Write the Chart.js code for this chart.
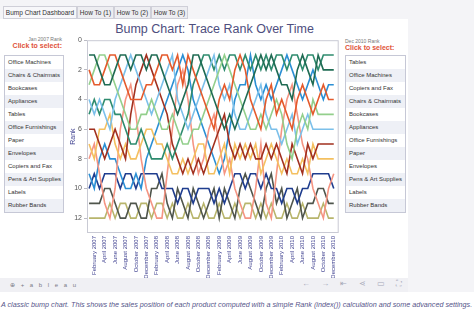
<!DOCTYPE html>
<html lang="en">
<head>
<meta charset="UTF-8">
<title>Bump Chart: Trace Rank Over Time</title>
<script src="https://cdn.jsdelivr.net/npm/chart.js"></script>
<style>
  body { margin:0; width:474px; height:334px; background:#fff; position:relative; overflow:hidden;
         font-family:"Liberation Sans", Arial, sans-serif; }
  .strip { position:absolute; left:0; top:0; width:474px; height:19px; background:#f4f4f7; }
  .side { position:absolute; left:408px; top:0; width:66px; height:292px; background:#f4f4f7; }
  .tab { position:absolute; top:6px; height:11px; border:1px solid #cfcfd8; background:#ededf1;
         font-size:6.5px; line-height:11px; text-align:center; color:#333; }
  .title { position:absolute; left:87px; width:255px; top:22px; text-align:center; font-size:12.5px; color:#4e4e7e; }
  .cap1 { position:absolute; font-size:5px; color:#777; }
  .cap2 { position:absolute; font-size:7px; color:#e0533a; font-weight:bold; }
  .list { position:absolute; top:55px; border:1px solid #c6c8d6; background:#fff; }
  .list div { height:13px; line-height:13px; font-size:6px; color:#333; padding-left:3px;
              white-space:nowrap; overflow:hidden; }
  .list div:nth-child(even) { background:#eef0f6; }
  #chart { position:absolute; left:60px; top:34px; }
  .bar { position:absolute; left:0; top:278px; width:408px; height:14px; background:#f0f0f4; }
  .logo { position:absolute; left:10px; top:3px; font-size:6px; letter-spacing:2px; color:#7a7a86; }
  .icons { position:absolute; left:302px; top:1px; font-size:8px; color:#a6a8b8; word-spacing:9px; }
  .caption { position:absolute; left:1px; top:300px; font-size:7.2px; font-style:italic; color:#55558a; white-space:nowrap; }
</style>
</head>
<body>
<div class="strip"></div>
<div class="side"></div>
<div class="tab" style="left:3px;width:72px;background:#f7f7fa">Bump Chart Dashboard</div>
<div class="tab" style="left:77px;width:35px">How To (1)</div>
<div class="tab" style="left:114px;width:35px">How To (2)</div>
<div class="tab" style="left:151px;width:35px">How To (3)</div>

<div class="title">Bump Chart: Trace Rank Over Time</div>

<div class="cap1" style="right:412px;top:36px">Jan 2007 Rank</div>
<div class="cap2" style="right:412px;top:42px">Click to select:</div>
<div class="list" id="startList" style="left:4px;width:58px"></div>

<div class="cap1" style="left:345px;top:38px">Dec 2010 Rank</div>
<div class="cap2" style="left:345px;top:44px">Click to select:</div>
<div class="list" id="endList" style="left:345px;width:59px"></div>

<canvas id="chart" width="284" height="244"></canvas>

<div class="bar">
  <div class="logo">⊕ + a b l e a u</div>
  <div class="icons">← → ⇤ ⋖ ▭ ⛶</div>
</div>
<div class="caption">A classic bump chart. This shows the sales position of each product computed with a simple Rank (index()) calculation and some advanced settings.</div>

<script>
// monthly sales rank, Jan 2007 .. Dec 2010
const officeMachines    = [1,1,2,3,3,2,1,1,2,1, 1,2,1,1,2,3,4,5,4,3, 1,1,2,3,4,5,6,5,6,5, 4,3,2,1,2,1,2,3,3,4, 2,1,2,3,1,2,2,2];
const chairsChairmats   = [2,3,3,2,1,1,2,3,4,4, 4,3,3,2,1,1,2,1,3,1, 2,3,4,5,6,4,3,4,2,1, 2,4,5,6,4,3,5,4,5,6, 4,3,4,5,4,3,4,4];
const bookcases         = [3,2,1,1,2,3,4,5,6,6, 5,5,4,5,6,6,5,6,7,7, 6,6,5,4,3,2,1,2,3,4, 5,6,6,5,6,5,4,5,7,8, 6,5,6,4,5,5,5,5];
const appliances        = [4,5,4,5,6,4,3,2,1,2, 3,4,5,4,3,2,1,4,5,6, 5,4,3,2,1,3,4,3,5,6, 6,5,4,3,5,6,6,7,6,5, 7,6,5,6,6,6,6,6];
const tables            = [5,4,5,4,4,5,5,6,7,7, 6,7,8,8,8,7,8,7,6,5, 3,2,1,1,2,1,2,1,1,2, 1,2,1,2,1,2,1,1,2,1, 1,2,1,1,2,1,1,1];
const officeFurnishings = [6,6,7,8,7,6,7,8,5,3, 2,1,2,3,4,5,7,8,9,8, 9,8,9,8,7,6,5,7,8,7, 8,7,8,8,7,8,7,8,9,7, 8,9,7,8,7,7,7,7];
const paper             = [7,8,6,6,5,7,8,7,8,8, 7,6,6,7,7,8,9,9,8,9, 8,7,7,9,9,8,7,9,7,8, 7,8,7,9,8,7,8,9,8,9, 9,8,9,7,8,8,8,8];
const envelopes         = [8,7,9,11,12,10,6,4,3,5, 8,10,11,12,12,9,6,3,2,4, 7,9,8,6,5,7,9,8,10,11, 12,12,10,7,11,12,9,6,4,3, 5,7,8,10,11,12,10,9];
const copiersFax        = [9,10,8,7,8,8,9,10,10,9, 10,8,7,6,5,4,3,2,1,2, 4,5,6,7,8,9,8,6,4,3, 3,1,3,4,3,4,3,2,1,2, 3,4,3,2,3,4,3,3];
const pensArt           = [10,9,10,9,9,9,10,9,9,10, 9,9,9,9,10,10,10,11,10,10, 11,10,10,10,11,10,11,10,9,9, 10,9,9,10,9,10,10,11,10,10, 11,10,10,9,9,9,9,10];
const labels            = [11,11,11,10,10,11,12,12,11,11, 12,12,10,10,9,11,12,10,11,12, 10,11,12,11,10,12,10,11,12,10, 9,10,11,12,10,9,11,10,12,11, 10,12,11,11,10,10,11,11];
const rubberBands       = [12,12,12,12,11,12,11,11,12,12, 11,11,12,11,11,12,11,12,12,11, 12,12,11,12,12,11,12,12,11,12, 11,11,12,11,12,11,12,12,11,12, 12,11,12,12,12,11,12,12];

const products = ['Office Machines','Chairs & Chairmats','Bookcases','Appliances','Tables','Office Furnishings',
                  'Paper','Envelopes','Copiers and Fax','Pens & Art Supplies','Labels','Rubber Bands'];
const series = [officeMachines, chairsChairmats, bookcases, appliances, tables, officeFurnishings,
                paper, envelopes, copiersFax, pensArt, labels, rubberBands];
const colors = ['#1f6b53','#e45a2c','#93cf8c','#7cc0ea','#2e8b6e','#a1301f',
                '#f4c060','#f59583','#2b8fd4','#1f3d8e','#4f554c','#b8b56c'];

// every other month is labelled, starting with February 2007
const tickMonths = [1,3,5,7,9,11,13,15,17,19,21,23,25,27,29,31,33,35,37,39,41,43,45,47];
const tickLabels = ['February 2007','April 2007','June 2007','August 2007','October 2007','December 2007',
                    'February 2008','April 2008','June 2008','August 2008','October 2008','December 2008',
                    'February 2009','April 2009','June 2009','August 2009','October 2009','December 2009',
                    'February 2010','April 2010','June 2010','August 2010','October 2010','December 2010'];
const rankTicks = [0,2,4,6,8,10,12];

// rank lists beside the chart
const startOrder = ['Office Machines','Chairs & Chairmats','Bookcases','Appliances','Tables','Office Furnishings',
                    'Paper','Envelopes','Copiers and Fax','Pens & Art Supplies','Labels','Rubber Bands'];
const endOrder = ['Tables','Office Machines','Copiers and Fax','Chairs & Chairmats','Bookcases','Appliances',
                  'Office Furnishings','Paper','Envelopes','Pens & Art Supplies','Labels','Rubber Bands'];

function fillList(id, items) {
  const el = document.getElementById(id);
  items.forEach(name => {
    const row = document.createElement('div');
    row.textContent = name;
    el.appendChild(row);
  });
}
fillList('startList', startOrder);
fillList('endList', endOrder);

const frame = {
  id: 'frame',
  beforeDatasetsDraw(chart) {
    const a = chart.chartArea, ctx = chart.ctx;
    ctx.save();
    ctx.strokeStyle = '#c9cad4';
    ctx.lineWidth = 1;
    ctx.strokeRect(a.left + 0.5, a.top + 0.5, a.right - a.left - 1, a.bottom - a.top - 1);
    ctx.restore();
  }
};

new Chart(document.getElementById('chart'), {
  type: 'line',
  data: {
    datasets: series.map((ranks, k) => ({
      label: products[k],
      data: ranks.map((r, i) => ({ x: i, y: r })),
      borderColor: colors[k],
      backgroundColor: colors[k]
    }))
  },
  options: {
    responsive: false,
    animation: false,
    layout: { padding: { top: 3, right: 2, left: 0, bottom: 0 } },
    plugins: { legend: { display: false }, tooltip: { enabled: false } },
    elements: { point: { radius: 0 }, line: { borderWidth: 1.6, tension: 0 } },
    scales: {
      x: {
        type: 'linear', min: -0.4, max: 47.95,
        grid: { display: false, drawTicks: false }, border: { display: false },
        afterBuildTicks: s => { s.ticks = tickMonths.map(v => ({ value: v })); },
        afterFit: s => { s.height = 45; },
        ticks: {
          autoSkip: false, minRotation: 90, maxRotation: 90, padding: 3,
          font: { size: 6, family: 'Liberation Sans' }, color: '#3d3f8f',
          callback: (v, i) => tickLabels[i]
        }
      },
      y: {
        min: 0, max: 13, reverse: true,
        afterBuildTicks: s => { s.ticks = rankTicks.map(v => ({ value: v })); },
        afterFit: s => { s.width = 27; },
        grid: { drawOnChartArea: false, tickLength: 3, color: '#bbbbc4' },
        border: { display: false },
        ticks: { padding: 2, font: { size: 7, family: 'Liberation Sans' }, color: '#555' },
        title: { display: true, text: 'Rank', color: '#3d3f8f', font: { size: 7, family: 'Liberation Sans' },
                 padding: { top: 9, bottom: 0 } }
      }
    }
  },
  plugins: [frame]
});
</script>
</body>
</html>
